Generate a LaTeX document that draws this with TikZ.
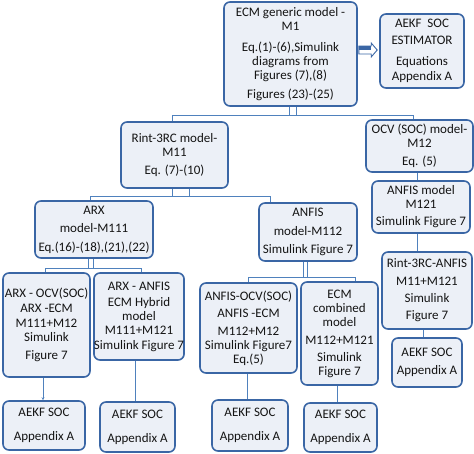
\documentclass[tikz,border=0pt]{standalone}
\usepackage{fontspec}
\setmainfont{Carlito}
\usetikzlibrary{arrows.meta,calc}
\definecolor{bb}{RGB}{58,102,165}
\definecolor{bf}{RGB}{236,240,247}
\definecolor{ln}{RGB}{79,129,189}
\definecolor{tx}{RGB}{20,20,20}
\tikzset{
  box/.style={draw=bb, line width=1.6pt, fill=bf, rounded corners=6pt, align=center,
    inner sep=0pt, text=tx, font=\fontsize{13}{14}\selectfont},
  conn/.style={draw=ln, line width=0.9pt}
}
\newcommand\pbox[6]{\node[box, minimum width={((#4)-(#2))*1pt}, minimum height={((#5)-(#3))*1pt}]
  (#1) at ({((#2)+(#4))/2},{((#3)+(#5))/2}) {#6};}
\begin{document}
\begin{tikzpicture}[x=1pt,y=-1pt]
\useasboundingbox (0,0) rectangle (474,453);
% boxes
\pbox{m1}{224}{2}{357}{106}{ECM generic model -\\ M1\\[7pt] Eq.(1)-(6),Simulink\\ diagrams from\\ Figures (7),(8)\\[5pt] Figures (23)-(25)}
\pbox{est}{380}{14}{464}{88}{AEKF\ \ SOC\\[3pt] ESTIMATOR\\[7pt] Equations\\[1pt] Appendix A}
\pbox{m11}{121}{122}{228}{188}{Rint-3RC model-\\ M11\\[4pt] Eq. (7)-(10)}
\pbox{m12}{366}{120}{473}{172}{OCV (SOC) model-\\ M12\\[4pt] Eq. (5)}
\pbox{m121}{372}{181}{470}{233}{ANFIS model\\ M121\\[3pt] Simulink Figure 7}
\pbox{m111}{35}{201}{153}{258}{ARX\\[4pt] model-M111\\[5pt] Eq.(16)-(18),(21),(22)}
\pbox{m112}{259}{203}{357}{261}{ANFIS\\[5pt] model-M112\\[4pt] Simulink Figure 7}
\pbox{arxocv}{3}{273}{90}{377}{ARX - OCV(SOC)\\[1pt] ARX -ECM\\[1pt] M111+M12\\ Simulink\\[4pt] Figure 7}
\pbox{arxanf}{95}{273}{183}{360}{ARX - ANFIS\\[2pt] ECM Hybrid\\ model\\ M111+M121\\[1pt] Simulink Figure 7}
\pbox{anfocv}{200}{283}{297}{373}{ANFIS-OCV(SOC)\\[3pt] ANFIS -ECM\\[4pt] M112+M12\\ Simulink Figure7\\ Eq.(5)}
\pbox{ecmc}{301}{282}{378}{385}{ECM\\ combined\\ model\\[4pt] M112+M121\\[3pt] Simulink\\ Figure 7}
\pbox{rint}{382}{252}{472}{329}{Rint-3RC-ANFIS\\[4pt] M11+M121\\[3pt] Simulink\\[3pt] Figure 7}
\pbox{aekfr}{392}{338}{462}{387}{AEKF SOC\\[4pt] Appendix A}
\pbox{aekf1}{3}{401}{85}{450}{AEKF SOC\\[10pt] Appendix A}
\pbox{aekf2}{100}{402}{175}{452}{AEKF SOC\\[10pt] Appendix A}
\pbox{aekf3}{212}{400}{288}{451}{AEKF SOC\\[10pt] Appendix A}
\pbox{aekf4}{304}{403}{377}{452}{AEKF SOC\\[10pt] Appendix A}
% block arrow from M1 to estimator
\coordinate (aS) at ($(m1.east)+(1,-4)$);
\coordinate (aE) at ($(est.west)+(-2,-1)$);
\draw[bb, fill=white, line width=0.9pt, line join=miter]
  ($(aS)+(0,-4)$) -- ($(aE)+(-6,-4)$) -- ($(aE)+(-6,-7)$) -- (aE) -- ($(aE)+(-6,7)$)
  -- ($(aE)+(-6,4)$) -- ($(aS)+(0,4)$) -- cycle;
\fill[bb] ($(aS)+(0,-4)$) rectangle ($(aE)+(-6,-0.5)$);
% M1 tree
\coordinate (h1L) at (172,115);
\coordinate (h1R) at (413,115);
\draw[conn] (h1L) -- (h1R);
\draw[conn] ([xshift=-1.5pt]m1.south) -- ([xshift=-1.5pt]m1.south |- h1L);
\draw[conn] ([xshift=5.5pt]m1.south) -- ([xshift=5.5pt]m1.south |- h1L);
\draw[conn] (h1L) -- (h1L |- m11.north);
\draw[conn] (h1R) -- (h1R |- m12.north);
% M11 tree
\coordinate (h2L) at (90,196);
\coordinate (h2R) at (270,196);
\draw[conn] (h2L) -- (h2R);
\draw[conn] ([xshift=-2.5pt]m11.south) -- ([xshift=-2.5pt]m11.south |- h2L);
\draw[conn] ([xshift=14.5pt]m11.south) -- ([xshift=14.5pt]m11.south |- h2L);
\draw[conn] (h2L) -- (h2L |- m111.north);
\draw[conn] (h2R) -- (h2R |- m112.north);
% M111 tree
\coordinate (h3L) at (45,268);
\coordinate (h3R) at (141,268);
\draw[conn] (h3L) -- (h3R);
\draw[conn] ([xshift=-6pt]m111.south) -- ([xshift=-6pt]m111.south |- h3L);
\draw[conn] ([xshift=-1pt]m111.south) -- ([xshift=-1pt]m111.south |- h3L);
\draw[conn] (h3L) -- (h3L |- arxocv.north);
\draw[conn] (h3R) -- (h3R |- arxanf.north);
% M112 tree
\coordinate (h4L) at (248,277);
\coordinate (h4R) at (355,277);
\draw[conn] (h4L) -- (h4R);
\draw[conn] ([xshift=-5pt]m112.south) -- ([xshift=-5pt]m112.south |- h4L);
\draw[conn] ([xshift=-1pt]m112.south) -- ([xshift=-1pt]m112.south |- h4L);
\draw[conn] (h4L) -- (h4L |- anfocv.north);
\draw[conn] (h4R) -- (h4R |- ecmc.north);
% right column
\draw[conn] ([xshift=-2.5pt]m12.south) -- ([xshift=-2.5pt]m12.south |- m121.north);
\draw[conn] ([xshift=-4pt]m121.south) -- ([xshift=-4pt]m121.south |- rint.north);
\draw[conn] ([xshift=-4pt]rint.south) -- ([xshift=-4pt]rint.south |- aekfr.north);
% bottom
\draw[conn, -{Stealth[length=3pt,width=3pt]}] ([xshift=-3.5pt]arxocv.south) -- ([xshift=-3.5pt]arxocv.south |- aekf1.north);
\draw[conn] ([xshift=-4pt]arxanf.south) -- ([xshift=-4pt]arxanf.south |- aekf2.north);
\draw[conn] ([xshift=-1.5pt]anfocv.south) -- ([xshift=-1.5pt]anfocv.south |- aekf3.north);
\draw[conn] ([xshift=-2.5pt]ecmc.south) -- ([xshift=-2.5pt]ecmc.south |- aekf4.north);
\end{tikzpicture}
\end{document}
